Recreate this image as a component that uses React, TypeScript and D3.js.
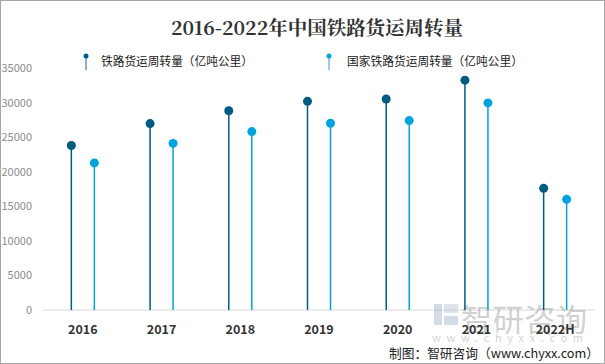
import { useEffect, useRef } from 'react';
import * as d3 from 'd3';

const categories = ['2016', '2017', '2018', '2019', '2020', '2021', '2022H'];
const railway = [23792, 26962, 28821, 30182, 30514, 33238, 17600];
const national = [21273, 24092, 25801, 27010, 27397, 29950, 16000];
const yTicks = [0, 5000, 10000, 15000, 20000, 25000, 30000, 35000];
const seriesNames = ['铁路货运周转量（亿吨公里）', '国家铁路货运周转量（亿吨公里）'];
const seriesColors = ['#005b82', '#00a3dc'];

const W = 605;
const H = 364;

export default function App() {
  const svgRef = useRef<SVGSVGElement>(null);

  useEffect(() => {
    if (!svgRef.current) return;
    const svg = d3.select(svgRef.current);
    svg.selectAll('*').remove();

    const font = '"Microsoft YaHei", "Noto Sans CJK SC", sans-serif';

    // border
    svg.append('rect')
      .attr('x', 0.5).attr('y', 0.5)
      .attr('width', W - 1).attr('height', H - 1)
      .attr('fill', '#fff').attr('stroke', '#a6a6a6');

    const x = d3.scaleBand<number>()
      .domain(d3.range(categories.length))
      .range([43.5, 594.5]);
    const y = d3.scaleLinear().domain([0, 35000]).range([310, 68]);

    // title
    svg.append('text')
      .attr('x', 171).attr('y', 35)
      .attr('font-family', '"Noto Serif CJK SC", "DejaVu Serif", serif')
      .attr('font-weight', 'bold')
      .attr('font-size', 19)
      .attr('textLength', 292)
      .attr('lengthAdjust', 'spacingAndGlyphs')
      .attr('fill', '#333')
      .text('2016-2022年中国铁路货运周转量');

    // y tick labels
    svg.append('g').selectAll('text')
      .data(yTicks)
      .join('text')
      .attr('x', 32)
      .attr('y', (d) => y(d) + 4)
      .attr('text-anchor', 'end')
      .attr('font-family', font)
      .attr('font-size', 11)
      .attr('fill', '#8c8c8c')
      .text((d) => d);

    // axis line
    svg.append('line')
      .attr('x1', 43).attr('x2', 595)
      .attr('y1', y(0)).attr('y2', y(0))
      .attr('stroke', '#d9d9d9').attr('stroke-width', 1);

    // watermark
    const wm = svg.append('g').attr('opacity', 0.45);
    wm.append('rect').attr('x', 434).attr('y', 304).attr('width', 8).attr('height', 21).attr('fill', '#9fb0c8');
    wm.append('rect').attr('x', 444).attr('y', 304).attr('width', 14).attr('height', 9).attr('fill', '#b8c4d6');
    wm.append('rect').attr('x', 444).attr('y', 316).attr('width', 14).attr('height', 9).attr('fill', '#9fb0c8');
    wm.append('text')
      .attr('x', 461).attr('y', 331)
      .attr('font-family', font)
      .attr('font-size', 31)
      .attr('textLength', 126)
      .attr('fill', '#9a9a9a')
      .text('智研咨询');
    wm.append('text')
      .attr('x', 432).attr('y', 342)
      .attr('font-family', font)
      .attr('font-size', 11)
      .attr('textLength', 151)
      .attr('fill', '#a0a0a0')
      .text('www.chyxx.com');

    const offset = 11.5;
    const allSeries = [railway, national];
    allSeries.forEach((vals, si) => {
      const g = svg.append('g');
      const cx = (i: number) => x(i)! + x.bandwidth() / 2 + (si === 0 ? -offset : offset);
      g.selectAll('line')
        .data(vals)
        .join('line')
        .attr('x1', (_, i) => cx(i)).attr('x2', (_, i) => cx(i))
        .attr('y1', y(0)).attr('y2', (d) => y(d))
        .attr('stroke', seriesColors[si]).attr('stroke-width', 1.5);
      g.selectAll('circle')
        .data(vals)
        .join('circle')
        .attr('cx', (_, i) => cx(i))
        .attr('cy', (d) => y(d))
        .attr('r', 4.5)
        .attr('fill', seriesColors[si]);
    });

    // category labels
    svg.append('g').selectAll('text')
      .data(categories)
      .join('text')
      .attr('x', (_, i) => x(i)! + x.bandwidth() / 2)
      .attr('y', 334)
      .attr('text-anchor', 'middle')
      .attr('font-family', font)
      .attr('font-weight', 'bold')
      .attr('font-size', 12.5)
      .attr('fill', '#333')
      .text((d) => d);

    // legend
    const legendX = [86, 329];
    const legendText = [101, 347];
    seriesNames.forEach((name, i) => {
      svg.append('line')
        .attr('x1', legendX[i]).attr('x2', legendX[i]).attr('y1', 56).attr('y2', 70)
        .attr('stroke', i === 0 ? '#8fb4c6' : '#8fd0ea').attr('stroke-width', 2);
      svg.append('circle').attr('cx', legendX[i]).attr('cy', 56).attr('r', 2.5).attr('fill', seriesColors[i]);
      svg.append('text')
        .attr('x', legendText[i]).attr('y', 66)
        .attr('font-family', font)
        .attr('font-size', 12)
        .attr('textLength', i === 0 ? 152 : 176)
        .attr('lengthAdjust', 'spacingAndGlyphs')
        .attr('fill', '#222')
        .text(name);
    });

    // source
    svg.append('text')
      .attr('x', 389).attr('y', 358)
      .attr('font-family', font)
      .attr('font-size', 13)
      .attr('textLength', 210)
      .attr('lengthAdjust', 'spacingAndGlyphs')
      .attr('fill', '#222')
      .text('制图：智研咨询（www.chyxx.com）');
  }, []);

  return (
    <svg
      ref={svgRef}
      width={W}
      height={H}
      style={{ position: 'absolute', left: 0, top: 0, display: 'block' }}
    />
  );
}
